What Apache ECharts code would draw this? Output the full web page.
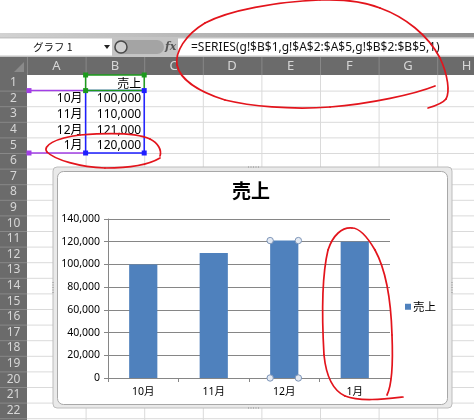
<!DOCTYPE html>
<html><head><meta charset="utf-8">
<script src="https://cdn.jsdelivr.net/npm/echarts/dist/echarts.min.js"></script>
<style>html,body{margin:0;padding:0;background:#fff}#c{width:474px;height:420px}</style>
</head><body><div id="c"></div>
<script>
// ---- data ----
const categories = ['10月', '11月', '12月', '1月'];
const sales = [100000, 110000, 121000, 120000];
const seriesName = '売上';
const chartTitle = '売上';
const yMax = 140000;
const yStep = 20000;
const columnLetters = ['A', 'B', 'C', 'D', 'E', 'F', 'G', 'H'];
const rowNumbers = [1, 2, 3, 4, 5, 6, 7, 8, 9, 10, 11, 12, 13, 14, 15, 16, 17, 18, 19, 20, 21, 22, 23];
const nameBoxText = 'グラフ 1';
const formulaText = '=SERIES(g!$B$1,g!$A$2:$A$5,g!$B$2:$B$5,1)';
const selectedBar = 2;

// ---- layout ----
const FONT = "'Noto Sans', 'Noto Sans CJK JP', sans-serif";
const CJK = "'Noto Sans CJK JP', 'Noto Sans', sans-serif";
const RH_W = 27, COL_W = 58.6, HEAD_TOP = 57, HEAD_H = 18, ROW_TOP = 75, ROW_H = 15.6;
const HEAD_BG = '#6b6b6b', HEAD_TX = '#d6d6d6', HEAD_SEP = '#888888', CELL_LINE = '#dadada';
const RED = '#e3141c';
const fmt = v => v.toLocaleString('en-US');

const g = [];
const colX = i => RH_W + i * COL_W;
const rowY = i => ROW_TOP + i * ROW_H;

// toolbar
g.push({type:'rect', z:-20, shape:{x:0,y:33,width:474,height:4}, style:{fill:new echarts.graphic.LinearGradient(0,0,1,0,[{offset:0,color:'#d2d2d2'},{offset:1,color:'#8e8e8e'}])}});
g.push({type:'rect', z:-20, shape:{x:0,y:37,width:474,height:20}, style:{fill:'#c4c4c4'}});
g.push({type:'rect', z:-19, shape:{x:0,y:38.5,width:112,height:17}, style:{fill:'#fff'}});
g.push({type:'text', z:-18, style:{x:33, y:47.5, text:nameBoxText, font:"10.5px " + CJK, fill:'#111', verticalAlign:'middle'}});
g.push({type:'polygon', z:-18, shape:{points:[[104,45],[110,45],[107,49]]}, style:{fill:'#222'}});
g.push({type:'rect', z:-19, shape:{x:114,y:40,width:50,height:14,r:7}, style:{fill:'#a4a4a4'}});
g.push({type:'circle', z:-18, shape:{cx:121,cy:47,r:6}, style:{fill:'#cfcfcf', stroke:'#4a4a4a', lineWidth:1.5}});
g.push({type:'text', z:-18, style:{x:165, y:47.5, text:'fx', font:"italic bold 11px 'DejaVu Serif', serif", fill:'#555', verticalAlign:'middle'}});
g.push({type:'rect', z:-19, shape:{x:178,y:38.5,width:296,height:17}, style:{fill:'#fff'}});
g.push({type:'text', z:-18, style:{x:191, y:47.5, text:formulaText, font:"12px " + FONT, fill:'#111', verticalAlign:'middle'}});

// headers
g.push({type:'rect', z:-20, shape:{x:0,y:HEAD_TOP,width:474,height:HEAD_H}, style:{fill:HEAD_BG}});
g.push({type:'rect', z:-20, shape:{x:0,y:ROW_TOP,width:RH_W,height:420-ROW_TOP}, style:{fill:HEAD_BG}});
g.push({type:'polygon', z:-19, shape:{points:[[24,62],[24,72],[14,72]]}, style:{fill:'#8a8a8a'}});
columnLetters.forEach((L, i) => {
  g.push({type:'text', z:-18, style:{x:colX(i) + COL_W/2, y:HEAD_TOP + HEAD_H/2, text:L, font:"13px " + FONT, fill:HEAD_TX, align:'center', verticalAlign:'middle'}});
  g.push({type:'line', z:-18, shape:{x1:colX(i)+0.5, y1:HEAD_TOP, x2:colX(i)+0.5, y2:HEAD_TOP+HEAD_H}, style:{stroke:HEAD_SEP}});
});
rowNumbers.forEach((n, i) => {
  g.push({type:'text', z:-18, style:{x:13.5, y:rowY(i) + ROW_H/2, text:String(n), font:"12px " + FONT, fill:HEAD_TX, align:'center', verticalAlign:'middle'}});
  g.push({type:'line', z:-18, shape:{x1:0, y1:rowY(i+1)+0.5, x2:RH_W, y2:rowY(i+1)+0.5}, style:{stroke:HEAD_SEP}});
});
// cell grid
for (let k = 1; k <= columnLetters.length; k++) {
  g.push({type:'line', z:-19, shape:{x1:colX(k)+0.5, y1:ROW_TOP, x2:colX(k)+0.5, y2:420}, style:{stroke:CELL_LINE}});
}
for (let n = 1; n < rowNumbers.length; n++) {
  g.push({type:'line', z:-19, shape:{x1:RH_W, y1:rowY(n)+0.5, x2:474, y2:rowY(n)+0.5}, style:{stroke:CELL_LINE}});
}
// cell contents
g.push({type:'text', z:-17, style:{x:colX(2)-3, y:rowY(0)+ROW_H/2+0.5, text:seriesName, font:"12px " + CJK, fill:'#000', align:'right', verticalAlign:'middle'}});
categories.forEach((c, i) => {
  g.push({type:'text', z:-17, style:{x:colX(1)-3, y:rowY(i+1)+ROW_H/2+0.5, text:c, font:"12px " + FONT, fill:'#000', align:'right', verticalAlign:'middle'}});
  g.push({type:'text', z:-17, style:{x:colX(2)-3, y:rowY(i+1)+ROW_H/2+0.5, text:fmt(sales[i]), font:"12px " + FONT, fill:'#000', align:'right', verticalAlign:'middle'}});
});
// range highlights
const PUR = '#a23fe6', BLU = '#1e1eff', GRN = '#1d9a1d';
const yTopR = rowY(1), yBotR = rowY(1 + categories.length);
g.push({type:'line', z:-16, shape:{x1:RH_W, y1:yTopR, x2:colX(1), y2:yTopR}, style:{stroke:PUR, lineWidth:1.5}});
g.push({type:'line', z:-16, shape:{x1:RH_W, y1:yBotR, x2:colX(1), y2:yBotR}, style:{stroke:PUR, lineWidth:1.5}});
g.push({type:'rect', z:-16, shape:{x:colX(1), y:yTopR, width:COL_W, height:yBotR-yTopR}, style:{fill:'none', stroke:BLU, lineWidth:1.5}});
g.push({type:'rect', z:-16, shape:{x:colX(1), y:rowY(0), width:COL_W, height:ROW_H}, style:{fill:'none', stroke:GRN, lineWidth:1.5}});
const sq = (x, y, c) => g.push({type:'rect', z:-15, shape:{x:x-2.5, y:y-2.5, width:5, height:5}, style:{fill:c}});
sq(colX(1), rowY(0), GRN); sq(colX(2), rowY(0), GRN); sq(colX(1), yTopR, GRN); sq(colX(2), yTopR, BLU);
sq(colX(1), yBotR, BLU); sq(colX(2), yBotR, BLU); sq(RH_W+2, yTopR, PUR); sq(RH_W+2, yBotR, PUR);

// chart frame
g.push({type:'rect', z:-10, shape:{x:53,y:167,width:399,height:241,r:4}, style:{fill:'#e9e9e9', stroke:'#bdbdbd'}});
g.push({type:'rect', z:-9, shape:{x:57.5,y:171.5,width:390,height:233,r:6}, style:{fill:'#fff', stroke:'#a8a8a8'}});
[[248,167,260,167],[248,408,260,408],[53,282,53,294],[452,282,452,294]].forEach(s => g.push({type:'line', z:-8, shape:{x1:s[0],y1:s[1],x2:s[2],y2:s[3]}, style:{stroke:'#8f8f8f', lineDash:[1,1.5]}}));

// red hand-drawn annotations (sequences of cubic bezier pieces)
const annot = [
  [[435,86],[415,94,370,104,330,107],[290,110,250,106,225,100],[200,92,180,80,177,65],[175,52,185,35,205,23],[230,10,275,2,320,0],[345,-1,365,2,380,8],[405,17,428,35,440,58],[448,75,450,92,446,99],[442,104,435,106,428,108]],
  [[160,158],[150,164,130,168,105,168],[80,167,55,160,47,152],[42,146,55,138,80,135],[105,133,135,132,150,139],[158,143,162,150,160,156]],
  [[387,395],[392,385,393,360,392,335],[391,300,386,270,375,250],[368,238,360,228,352,228],[342,227,333,235,328,250],[322,275,322,320,324,355],[326,375,332,390,345,396],[360,402,385,399,403,397]]
];
annot.forEach(segs => {
  let [px, py] = segs[0];
  for (let i = 1; i < segs.length; i++) {
    const s = segs[i];
    g.push({type:'bezierCurve', z:100, shape:{x1:px, y1:py, cpx1:s[0], cpy1:s[1], cpx2:s[2], cpy2:s[3], x2:s[4], y2:s[5]}, style:{fill:null, stroke:RED, lineWidth:1.7, lineCap:'round'}});
    px = s[4]; py = s[5];
  }
});

const axisGray = '#868686';
const chart = echarts.init(document.getElementById('c'));
chart.setOption({
  animation: false,
  backgroundColor: '#fff',
  title: {text: chartTitle, left: 232, top: 181, padding: 0, textStyle: {fontSize: 19, fontWeight: 'bold', color: '#000', fontFamily: CJK}},
  legend: {data: [seriesName], left: 405, top: 301, padding: 0, icon: 'rect', itemWidth: 6, itemHeight: 6,
    textStyle: {fontSize: 11.5, color: '#000', fontFamily: CJK, padding: [0,0,0,-3]}},
  grid: {left: 108, right: 84, top: 219, bottom: 42},
  xAxis: {type: 'category', data: categories,
    axisLine: {lineStyle: {color: axisGray}},
    axisTick: {show: true, alignWithLabel: false, length: 4, lineStyle: {color: axisGray}},
    axisLabel: {fontSize: 10.5, color: '#000', margin: 9, fontFamily: FONT}},
  yAxis: {type: 'value', min: 0, max: yMax, interval: yStep,
    axisLine: {show: true, lineStyle: {color: axisGray}},
    axisTick: {show: true, length: 4, lineStyle: {color: axisGray}},
    splitLine: {lineStyle: {color: axisGray}},
    axisLabel: {fontSize: 10.5, color: '#000', margin: 8, fontFamily: FONT, formatter: v => fmt(v)}},
  graphic: {elements: g},
  series: [
    {type: 'bar', name: seriesName, data: sales, barWidth: '40%', itemStyle: {color: '#4f81bd'}},
    {type: 'custom', name: 'selection', silent: true, z: 5,
      data: [[selectedBar, sales[selectedBar]]], encode: {x: 0, y: 1},
      renderItem: (params, api) => {
        const top = api.coord([api.value(0), api.value(1)]);
        const base = api.coord([api.value(0), 0]);
        const hw = api.size([1, 0])[0] * 0.4 / 2;
        const pts = [[top[0]-hw, top[1]], [top[0]+hw, top[1]], [base[0]-hw, base[1]], [base[0]+hw, base[1]]];
        return {type: 'group', children: pts.map(p => ({type: 'circle', shape: {cx: p[0], cy: p[1], r: 3.2}, style: {fill: '#e4eaf3', stroke: '#7d95b8', lineWidth: 1}}))};
      }}
  ]
});
</script></body></html>
